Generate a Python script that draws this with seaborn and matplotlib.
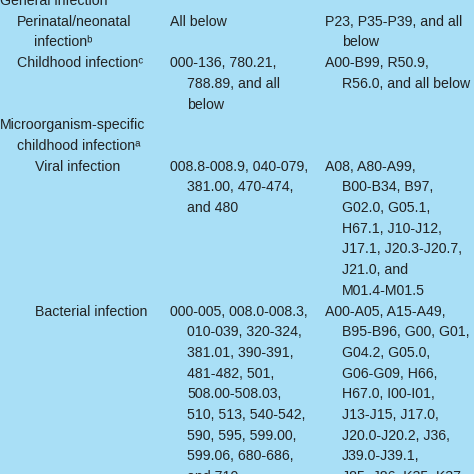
import matplotlib
matplotlib.use("Agg")
import matplotlib.pyplot as plt
from matplotlib import font_manager
import seaborn as sns

# table rows: label lines, indent level, ICD-9 lines, ICD-10 lines
labels = [
    ["General infection"],
    ["Perinatal/neonatal", "infection\u1d47"],
    ["Childhood infection\u1d9c"],
    ["Microorganism-specific", "childhood infection\u1d43"],
    ["Viral infection"],
    ["Bacterial infection"],
]
indents = [0, 1, 1, 0, 2, 2]
icd9 = [
    [],
    ["All below"],
    ["000-136, 780.21,", "788.89, and all", "below"],
    [],
    ["008.8-008.9, 040-079,", "381.00, 470-474,", "and 480"],
    ["000-005, 008.0-008.3,", "010-039, 320-324,", "381.01, 390-391,",
     "481-482, 501,", "508.00-508.03,", "510, 513, 540-542,",
     "590, 595, 599.00,", "599.06, 680-686,", "and 710"],
]
icd10 = [
    [],
    ["P23, P35-P39, and all", "below"],
    ["A00-B99, R50.9,", "R56.0, and all below"],
    [],
    ["A08, A80-A99,", "B00-B34, B97,", "G02.0, G05.1,", "H67.1, J10-J12,",
     "J17.1, J20.3-J20.7,", "J21.0, and", "M01.4-M01.5"],
    ["A00-A05, A15-A49,", "B95-B96, G00, G01,", "G04.2, G05.0,",
     "G06-G09, H66,", "H67.0, I00-I01,", "J13-J15, J17.0,",
     "J20.0-J20.2, J36,", "J39.0-J39.1,", "J85, J86, K35, K37,"],
]

sns.set_theme(style="white")
names = {f.name for f in font_manager.fontManager.ttflist}
fam = ["Liberation Sans Narrow", "DejaVu Sans"] if "Liberation Sans Narrow" in names else ["Liberation Sans", "DejaVu Sans"]
size = 12.2 if fam[0] == "Liberation Sans Narrow" else 10.2
plt.rcParams["font.family"] = fam

bg = "#a9dff6"
fig = plt.figure(figsize=(4.74, 4.74), dpi=100, facecolor=bg)
ax = fig.add_axes([0, 0, 1, 1], facecolor=bg)
ax.set_xlim(0, 474)
ax.set_ylim(474, 0)
ax.axis("off")

step = 20.7
y0 = 1
line = 0
col2, col3, wrap = 170, 325, 17
for lab, ind, a, b in zip(labels, indents, icd9, icd10):
    x1 = ind * 17 if ind < 2 else 35
    for i, t in enumerate(lab):
        ax.text(x1 + (wrap if i else 0) + (wrap if ind == 0 and i else 0) * 0,
                y0 + step * (line + i), t, va="center", size=size, color="#222222")
    for i, t in enumerate(a):
        ax.text(col2 + (wrap if i else 0), y0 + step * (line + i), t, va="center", size=size, color="#222222")
    for i, t in enumerate(b):
        ax.text(col3 + (wrap if i else 0), y0 + step * (line + i), t, va="center", size=size, color="#222222")
    line += max(len(lab), len(a), len(b))

fig.savefig("out.png", dpi=100, facecolor=bg)
